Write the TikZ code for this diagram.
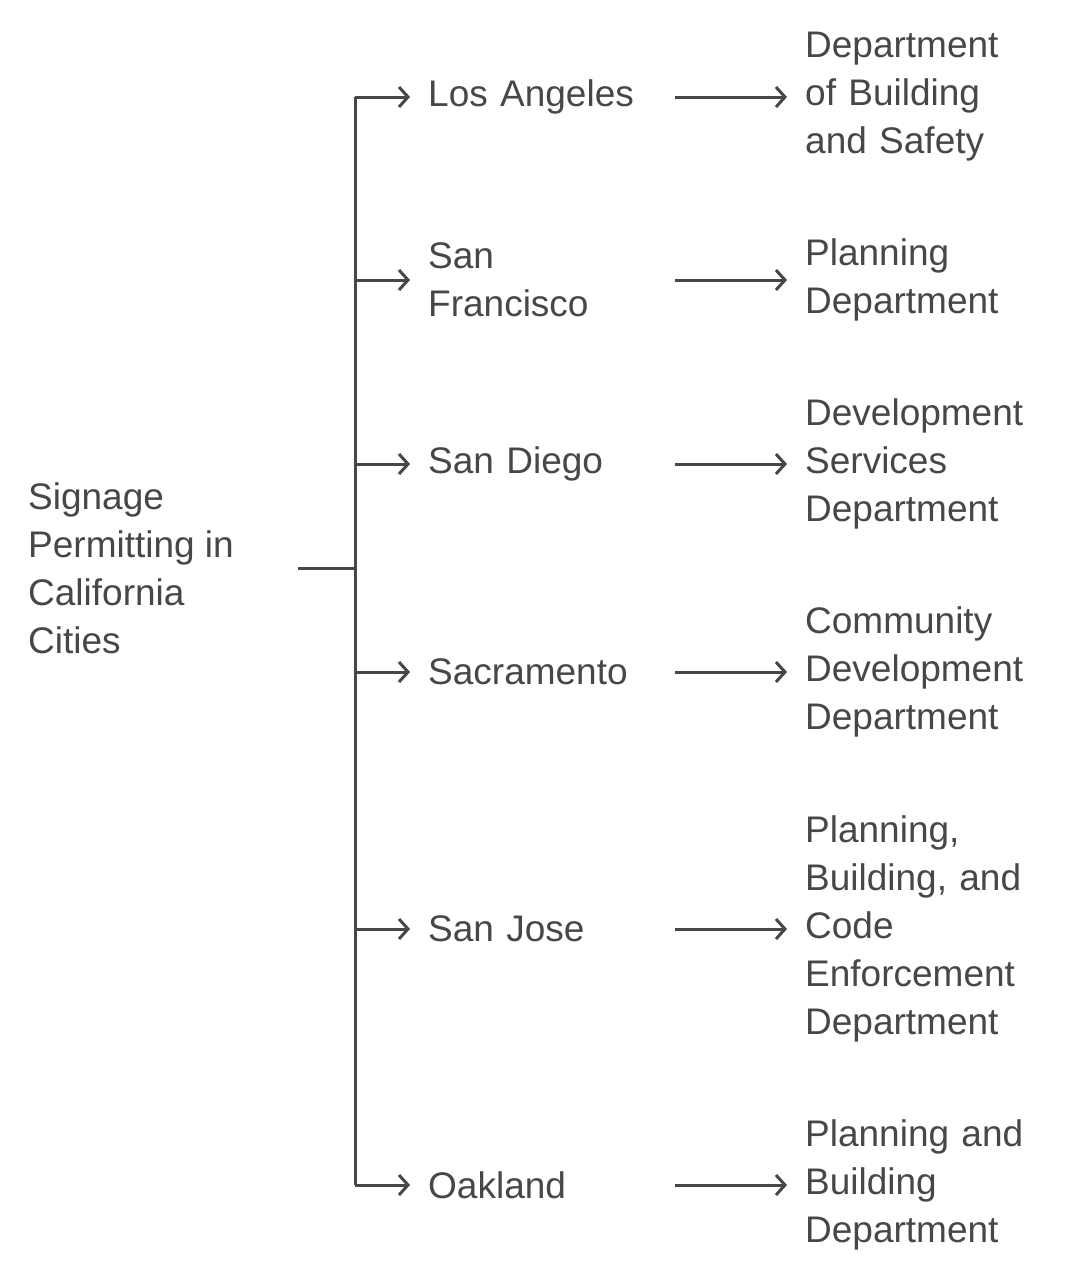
\documentclass[tikz,border=0pt]{standalone}
\usepackage{fontspec}
\setmainfont{Liberation Sans}
\usetikzlibrary{arrows.meta}
\definecolor{ink}{HTML}{474747}
\begin{document}
\begin{tikzpicture}[x=1pt,y=-1pt,
    lbl/.style={anchor=west,inner sep=0pt,align=left,text=ink,
      font=\fontsize{37}{48}\selectfont},
    city/.style={lbl,text width=229pt},
    dept/.style={lbl,text width=260pt},
    link/.style={draw=ink,line width=3pt},
    tip/.style={link,-{Straight Barb[length=9pt,width=20pt,line width=3pt]}}]
  \useasboundingbox (0,0) rectangle (1088,1280);

  % root and trunk
  \node[lbl] (root) at (28,568) {Signage\\Permitting in\\California\\Cities};
  \coordinate (trunk) at (355,568);
  \draw[link] (298,568) -- (trunk);

  % cities
  \node[city] (la) at (428,97)   {Los Angeles};
  \node[city] (sf) at (428,280)  {San\\Francisco};
  \node[city] (sd) at (428,464)  {San Diego};
  \node[city] (sac) at (428,672) {Sacramento};
  \node[city] (sj) at (428,929)  {San Jose};
  \node[city] (oak) at (428,1185) {Oakland};

  % departments
  \node[dept] (dla) at (805,97)   {Department\\of Building\\and Safety};
  \node[dept] (dsf) at (805,280)  {Planning\\Department};
  \node[dept] (dsd) at (805,464)  {Development\\Services\\Department};
  \node[dept] (dsac) at (805,672) {Community\\Development\\Department};
  \node[dept] (dsj) at (805,929)  {Planning,\\Building, and\\Code\\Enforcement\\Department};
  \node[dept] (doak) at (805,1185) {Planning and\\Building\\Department};

  \draw[link] (trunk |- la.west) -- (trunk |- oak.west);
  \foreach \c/\d in {la/dla,sf/dsf,sd/dsd,sac/dsac,sj/dsj,oak/doak}{
    \draw[tip,shorten >=18pt] (trunk |- \c.west) -- (\c.west);
    \draw[tip,shorten <=18pt,shorten >=18pt] (\c.east) -- (\d.west);
  }
\end{tikzpicture}
\end{document}
